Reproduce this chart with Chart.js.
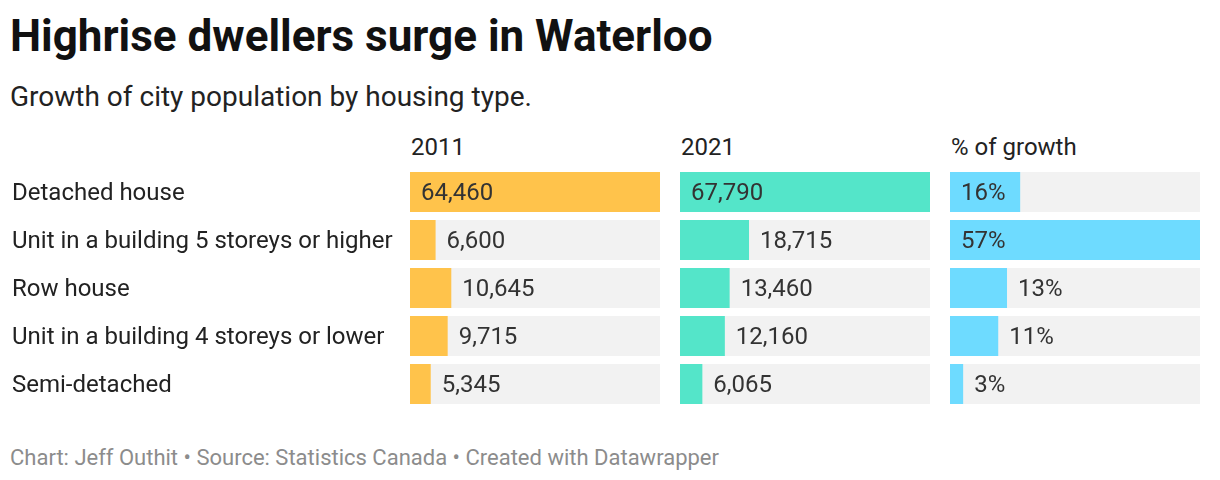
<!DOCTYPE html>
<html>
<head>
<meta charset="utf-8">
<script src="https://cdn.jsdelivr.net/npm/chart.js@4"></script>
<style>
  html, body { margin: 0; padding: 0; background: #fff; }
  body { width: 1220px; height: 480px; position: relative; overflow: hidden; font-family: Roboto, "Noto Sans", sans-serif; }
  .t { position: absolute; white-space: nowrap; }
  #title { left: 10px; top: 10px; font-size: 44px; font-weight: 700; color: #111; line-height: 53px; }
  #sub { left: 10px; top: 80px; font-size: 28px; color: #222; line-height: 34px; }
  .hdr { top: 133px; font-size: 24px; color: #222; line-height: 29px; }
  #foot { left: 10px; top: 445px; font-size: 22px; color: #8c8c8c; line-height: 26px; }
  canvas { position: absolute; }
</style>
</head>
<body>
<div id="title" class="t">Highrise dwellers surge in Waterloo</div>
<div id="sub" class="t">Growth of city population by housing type.</div>
<div class="t hdr" id="h1" style="left:411px"></div>
<div class="t hdr" id="h2" style="left:681px"></div>
<div class="t hdr" id="h3" style="left:951px"></div>
<div id="foot" class="t">Chart: Jeff Outhit • Source: Statistics Canada • Created with Datawrapper</div>

<canvas id="c1" width="660" height="240" style="left:0px;top:168px;width:660px;height:240px"></canvas>
<canvas id="c2" width="250" height="240" style="left:680px;top:168px;width:250px;height:240px"></canvas>
<canvas id="c3" width="250" height="240" style="left:950px;top:168px;width:250px;height:240px"></canvas>

<script>
const categories = [
  "Detached house",
  "Unit in a building 5 storeys or higher",
  "Row house",
  "Unit in a building 4 storeys or lower",
  "Semi-detached"
];
const columnHeaders = ["2011", "2021", "% of growth"];
const pop2011 = [64460, 6600, 10645, 9715, 5345];
const pop2021 = [67790, 18715, 13460, 12160, 6065];
const growthPct = [16, 57, 13, 11, 3];

document.getElementById('h1').textContent = columnHeaders[0];
document.getElementById('h2').textContent = columnHeaders[1];
document.getElementById('h3').textContent = columnHeaders[2];

const FONT = "Roboto, 'Noto Sans', sans-serif";
const PAD = 11;

const labelPlugin = {
  id: 'valueLabels',
  afterDatasetsDraw(chart, args, opts) {
    const ctx = chart.ctx;
    const meta = chart.getDatasetMeta(0);
    const data = chart.data.datasets[0].data;
    const xs = chart.scales.x;
    ctx.save();
    ctx.font = "24px " + FONT;
    ctx.fillStyle = '#333';
    ctx.textBaseline = 'middle';
    ctx.textAlign = 'left';
    meta.data.forEach((bar, i) => {
      const txt = opts.fmt(data[i]);
      const w = ctx.measureText(txt).width;
      const x0 = xs.getPixelForValue(0);
      const x1 = xs.getPixelForValue(data[i]);
      const x = (x1 - x0 >= w + 2 * PAD) ? x0 + PAD : x1 + PAD;
      ctx.fillText(txt, x, bar.y + 2);
    });
    ctx.restore();
  }
};

function makeChart(id, values, color, fmt, withLabels) {
  const maxV = Math.max(...values);
  return new Chart(document.getElementById(id), {
    type: 'bar',
    data: {
      labels: categories,
      datasets: [
        { data: values, backgroundColor: color, order: 0, grouped: false,
          barPercentage: 1, categoryPercentage: 40 / 48 },
        { data: values.map(() => maxV), backgroundColor: '#f2f2f2', order: 1, grouped: false,
          barPercentage: 1, categoryPercentage: 40 / 48 }
      ]
    },
    options: {
      indexAxis: 'y',
      responsive: false,
      animation: false,
      devicePixelRatio: 1,
      layout: { padding: { left: withLabels ? 12 : 0, right: 0, top: 0, bottom: 0 } },
      plugins: {
        legend: { display: false },
        tooltip: { enabled: false },
        valueLabels: { fmt }
      },
      scales: {
        x: { display: false, min: 0, max: maxV },
        y: {
          display: withLabels,
          grid: { display: false },
          border: { display: false },
          ticks: { crossAlign: 'far', color: '#222', font: { family: FONT, size: 24 }, padding: 0, labelOffset: 2 },
          afterFit: (s) => {
            if (withLabels) { s.width = 398; s.paddingTop = 0; s.paddingBottom = 0; }
          }
        }
      }
    },
    plugins: [labelPlugin]
  });
}

const fmtNum = v => v.toLocaleString('en-US');
const fmtPct = v => v + '%';
makeChart('c1', pop2011, '#ffc34b', fmtNum, true);
makeChart('c2', pop2021, '#54e5c9', fmtNum, false);
makeChart('c3', growthPct, '#6edbff', fmtPct, false);
</script>
</body>
</html>
